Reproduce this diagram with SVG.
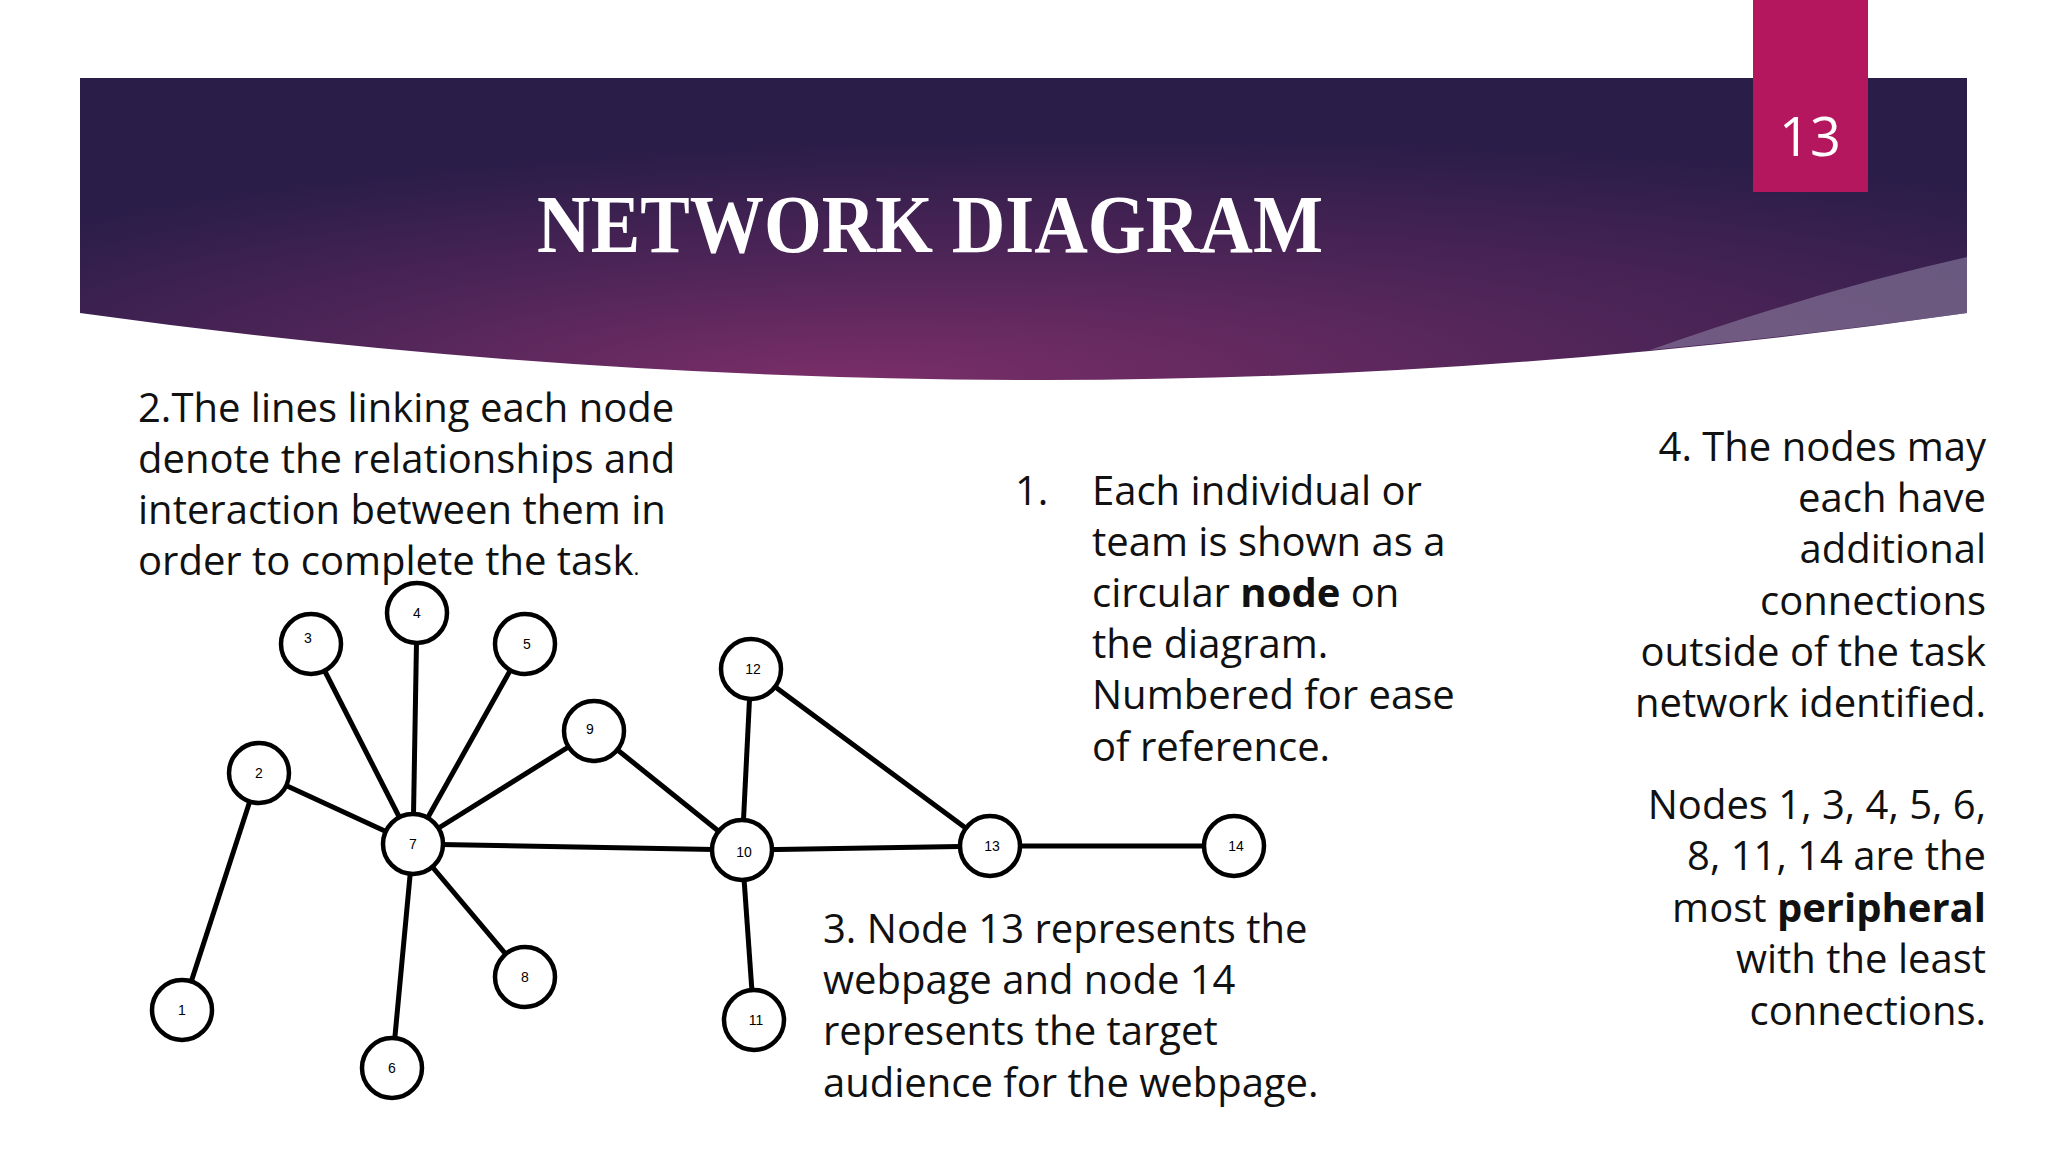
<svg xmlns="http://www.w3.org/2000/svg" width="2048" height="1152" viewBox="0 0 2048 1152">
<defs>
<radialGradient id="bg" cx="0.55" cy="0.9" r="0.7" fx="0.4" fy="1">
<stop offset="0" stop-color="#7a2e68"/><stop offset="0.5" stop-color="#4f2558"/><stop offset="1" stop-color="#2a1d48"/>
</radialGradient>
<style>
.t{font-family:"Open Sans","Liberation Sans",sans-serif;font-size:40px;font-weight:500;fill:#111}
.n circle{fill:#fff;stroke:#000;stroke-width:4.5}
.n text{font-family:"Liberation Sans",sans-serif;font-size:14px;text-anchor:middle;fill:#000}
#edges line{stroke:#000;stroke-width:5}
</style>
</defs>
<rect width="2048" height="1152" fill="#fff"/>
<path d="M80 78 H1967 V313 Q1500 380 1045 380 Q560 380 80 313 Z" fill="url(#bg)"/>
<path d="M1967 257 V313 Q1800 336 1650 350 Q1820 290 1967 257 Z" fill="#8a7ea0" opacity="0.6"/>
<rect x="1753" y="0" width="115" height="192" fill="#b5175f"/>
<text x="1810" y="156" font-family="Open Sans,Liberation Sans,sans-serif" font-size="54" fill="#fff" text-anchor="middle">13</text>
<text x="930" y="252" font-family="Liberation Serif,serif" font-weight="bold" font-size="82" fill="#fff" text-anchor="middle" textLength="786" lengthAdjust="spacingAndGlyphs">NETWORK DIAGRAM</text>
<g id="edges">
<line x1="182" y1="1010" x2="259" y2="773"/><line x1="259" y1="773" x2="413" y2="844"/>
<line x1="311" y1="644" x2="413" y2="844"/><line x1="417" y1="613" x2="413" y2="844"/>
<line x1="525" y1="644" x2="413" y2="844"/><line x1="594" y1="731" x2="413" y2="844"/>
<line x1="413" y1="844" x2="742" y2="850"/><line x1="413" y1="844" x2="525" y2="977"/>
<line x1="413" y1="844" x2="392" y2="1068"/><line x1="594" y1="731" x2="742" y2="850"/>
<line x1="742" y1="850" x2="751" y2="669"/><line x1="742" y1="850" x2="754" y2="1020"/>
<line x1="751" y1="669" x2="990" y2="846"/><line x1="742" y1="850" x2="990" y2="846"/>
<line x1="990" y1="846" x2="1234" y2="846"/>
</g>
<g id="node1" class="n"><circle cx="182" cy="1010" r="30"/><text x="182" y="1015">1</text></g>
<g id="node2" class="n"><circle cx="259" cy="773" r="30"/><text x="259" y="778">2</text></g>
<g id="node3" class="n"><circle cx="311" cy="644" r="30"/><text x="308" y="643">3</text></g>
<g id="node4" class="n"><circle cx="417" cy="613" r="30"/><text x="417" y="618">4</text></g>
<g id="node5" class="n"><circle cx="525" cy="644" r="30"/><text x="527" y="649">5</text></g>
<g id="node6" class="n"><circle cx="392" cy="1068" r="30"/><text x="392" y="1073">6</text></g>
<g id="node7" class="n"><circle cx="413" cy="844" r="30"/><text x="413" y="849">7</text></g>
<g id="node8" class="n"><circle cx="525" cy="977" r="30"/><text x="525" y="982">8</text></g>
<g id="node9" class="n"><circle cx="594" cy="731" r="30"/><text x="590" y="734">9</text></g>
<g id="node10" class="n"><circle cx="742" cy="850" r="30"/><text x="744" y="857">10</text></g>
<g id="node11" class="n"><circle cx="754" cy="1020" r="30"/><text x="756" y="1025">11</text></g>
<g id="node12" class="n"><circle cx="751" cy="669" r="30"/><text x="753" y="674">12</text></g>
<g id="node13" class="n"><circle cx="990" cy="846" r="30"/><text x="992" y="851">13</text></g>
<g id="node14" class="n"><circle cx="1234" cy="846" r="30"/><text x="1236" y="851">14</text></g>
<text class="t" x="138" y="422">2.The lines linking each node</text>
<text class="t" x="138" y="473">denote the relationships and</text>
<text class="t" x="138" y="524">interaction between them in</text>
<text class="t" x="138" y="575">order to complete the task<tspan font-size="22">.</tspan></text>
<text class="t" x="1015" y="505">1.</text>
<text class="t" x="1092" y="505">Each individual or</text>
<text class="t" x="1092" y="556">team is shown as a</text>
<text class="t" x="1092" y="607">circular <tspan font-weight="bold">node</tspan> on</text>
<text class="t" x="1092" y="658">the diagram.</text>
<text class="t" x="1092" y="709">Numbered for ease</text>
<text class="t" x="1092" y="761">of reference.</text>
<text class="t" x="823" y="943">3. Node 13 represents the</text>
<text class="t" x="823" y="994">webpage and node 14</text>
<text class="t" x="823" y="1045">represents the target</text>
<text class="t" x="823" y="1097">audience for the webpage.</text>
<g class="t" text-anchor="end">
<text x="1986" y="461">4. The nodes may</text>
<text x="1986" y="512">each have</text>
<text x="1986" y="563">additional</text>
<text x="1986" y="615">connections</text>
<text x="1986" y="666">outside of the task</text>
<text x="1986" y="717">network identified.</text>
<text x="1986" y="819">Nodes 1, 3, 4, 5, 6,</text>
<text x="1986" y="870">8, 11, 14 are the</text>
<text x="1986" y="922">most <tspan font-weight="bold">peripheral</tspan></text>
<text x="1986" y="973">with the least</text>
<text x="1986" y="1025">connections.</text>
</g>
</svg>
